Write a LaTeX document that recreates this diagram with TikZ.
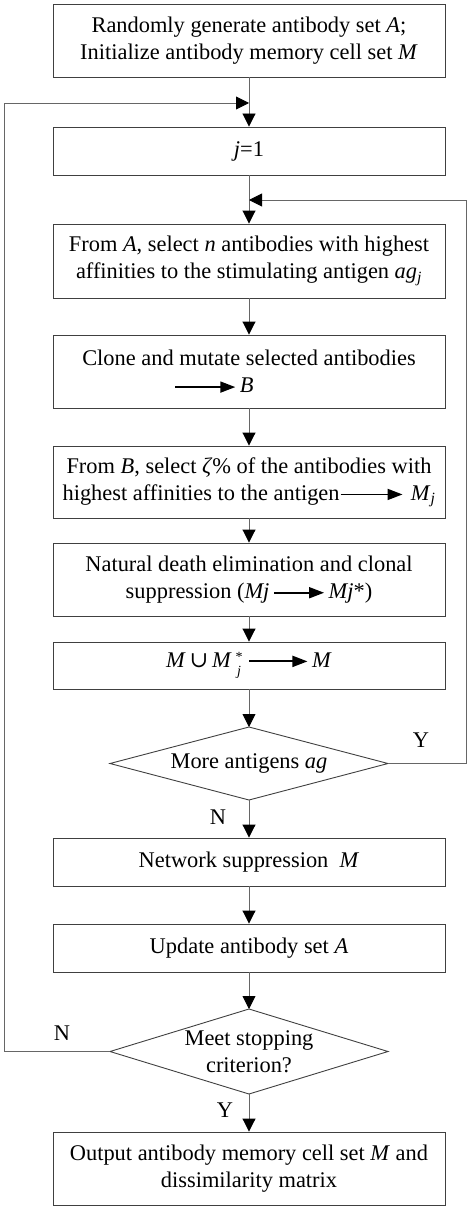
\documentclass[tikz,border=0pt]{standalone}
\usepackage{fontspec}
\setmainfont{Liberation Serif}
\newfontfamily\dejavuser{DejaVu Serif}
\usetikzlibrary{arrows.meta}
\newcommand\inarr[1]{\tikz[baseline=-0.55ex]\draw[line width=1.8pt,-{Triangle[length=15pt,width=11pt]}](0,0)--(#1,0);}
\newcommand\subit[1]{\textsubscript{\textit{#1}}}
\begin{document}
\begin{tikzpicture}[x=1pt,y=-1pt,
  every node/.style={font=\fontsize{22.4}{27}\selectfont},
  procbox/.style={draw=black!75,line width=0.9pt,minimum width=392pt,align=center,inner sep=0pt},
  flow/.style={draw=black!60,line width=0.9pt,-{Triangle[length=13pt,width=13pt,color=black]}},
  dia/.style={draw=black!75,line width=0.9pt},
  lbl/.style={inner sep=0pt}]
\useasboundingbox (0,0) rectangle (474,1209);
\node[procbox,minimum height=73pt] (b1) at (249,40.5) {Randomly generate antibody set \textit{A};\\Initialize antibody memory cell set \textit{M}};
\node[procbox,minimum height=48pt] (b2) at (249,151) {\textit{j}=1};
\node[procbox,minimum height=74pt] (b3) at (249,261) {From \textit{A}, select \textit{n} antibodies with highest\\affinities to the stimulating antigen \textit{ag}\subit{j}};
\node[procbox,minimum height=73pt] (b4) at (249,371.5) {Clone and mutate selected antibodies\\\inarr{60pt}\,\textit{B}\hspace*{70pt}};
\node[procbox,minimum height=72pt] (b5) at (249,482) {From \textit{B}, select \textit{ζ}\% of the antibodies with\\highest affinities to the antigen\inarr{62pt}\,\,\textit{M}\subit{j}};
\node[procbox,minimum height=73pt] (b6) at (249,579.5) {Natural death elimination and clonal\\suppression (\textit{Mj}\,\inarr{50pt}\,\textit{Mj}*)};
\node[procbox,minimum height=47pt] (b7) at (249,665.5) {\textit{M}\,{\dejavuser ∪}\,\textit{M}\,\raisebox{-0.2ex}{\fontsize{14}{10}\selectfont\begin{tabular}{@{}c@{}}*\\[2pt]\textit{j}\end{tabular}}\hspace{6pt}\inarr{58pt}\,\textit{M}};
\node[lbl] (d1) at (249,763.5) {More antigens \textit{ag}};
\coordinate (d1t) at (249,727);
\coordinate (d1b) at (249,800);
\coordinate (d1l) at (110,763.5);
\coordinate (d1r) at (388,763.5);
\draw[dia] (d1t) -- (d1r) -- (d1b) -- (d1l) -- cycle;
\node[procbox,minimum height=48pt] (b8) at (249,862) {Network suppression\ \ \textit{M}};
\node[procbox,minimum height=48pt] (b9) at (249,948) {Update antibody set \textit{A}};
\node[lbl,align=center,font=\fontsize{22.4}{27}\selectfont] (d2) at (249,1051.5) {Meet stopping\\criterion?};
\coordinate (d2t) at (249,1009);
\coordinate (d2b) at (249,1094);
\coordinate (d2l) at (110,1051.5);
\coordinate (d2r) at (388,1051.5);
\draw[dia] (d2t) -- (d2r) -- (d2b) -- (d2l) -- cycle;
\node[procbox,minimum height=73pt] (b10) at (249,1168.5) {Output antibody memory cell set \textit{M} and\\dissimilarity matrix};
\coordinate (m1) at (249,103);
\coordinate (m2) at (249,200);
\coordinate (lc1) at (4,1051.5);
\coordinate (lc2) at (4,103);
\coordinate (rc1) at (466,763.5);
\coordinate (rc2) at (466,200);
\draw[flow] (b1.south) -- (b2.north);
\draw[flow] (b2.south) -- (b3.north);
\draw[flow] (b3.south) -- (b4.north);
\draw[flow] (b4.south) -- (b5.north);
\draw[flow] (b5.south) -- (b6.north);
\draw[flow] (b6.south) -- (b7.north);
\draw[flow] (b7.south) -- (d1t);
\draw[flow] (d1b) -- (b8.north);
\draw[flow] (b8.south) -- (b9.north);
\draw[flow] (b9.south) -- (d2t);
\draw[flow] (d2b) -- (b10.north);
\draw[flow] (d2l) -- (lc1) -- (lc2) -- (m1);
\draw[flow] (d1r) -- (rc1) -- (rc2) -- (m2);
\node[lbl] (ly1) at (421,740) {Y};
\node[lbl] (ln1) at (218,817) {N};
\node[lbl] (ln2) at (62,1033) {N};
\node[lbl] (ly2) at (225,1110) {Y};
\end{tikzpicture}
\end{document}
